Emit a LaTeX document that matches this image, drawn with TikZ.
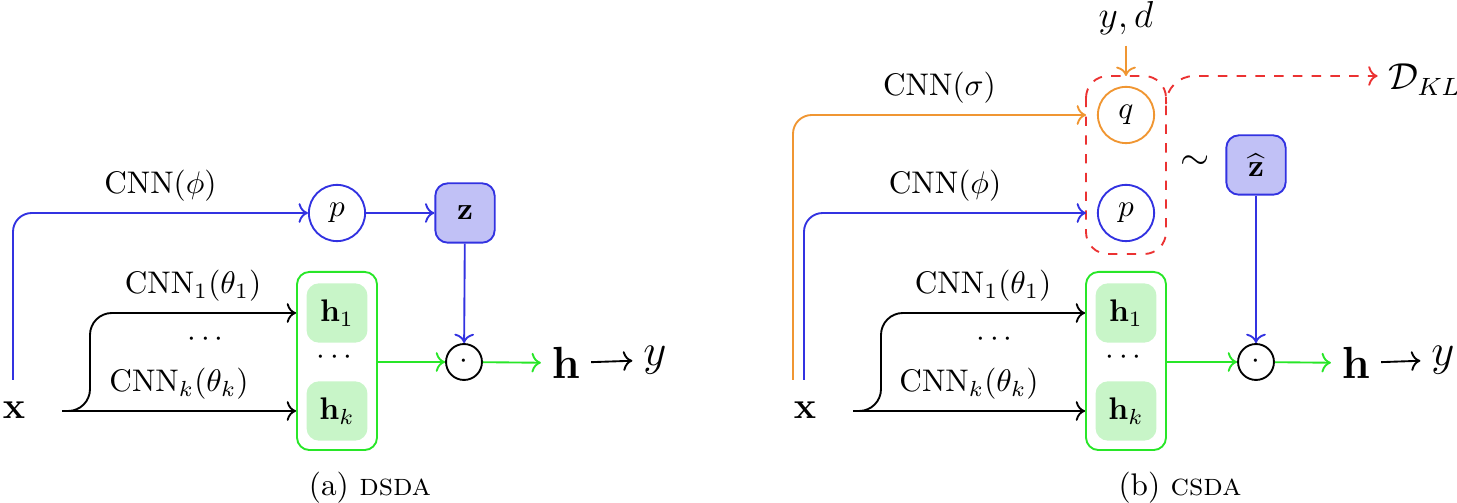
\documentclass[tikz,border=0pt]{standalone}
\usepackage{amsmath}
\usetikzlibrary{arrows.meta}
\definecolor{cb}{RGB}{50,50,225}
\definecolor{cg}{RGB}{40,230,40}
\definecolor{cgl}{RGB}{200,245,200}
\definecolor{co}{RGB}{240,150,50}
\definecolor{cr}{RGB}{235,50,50}
\tikzset{
 arr/.style={-{To[length=3pt]},line width=0.6pt},
 circ/.style={circle,draw,minimum size=18pt,inner sep=0pt,line width=0.6pt},
 zbox/.style={rectangle,rounded corners=4pt,draw=cb,fill=cb!30,line width=0.6pt,minimum width=19pt,minimum height=19pt},
 outer/.style={rectangle,rounded corners=4pt,draw=cg,line width=0.6pt,minimum width=25.6pt,minimum height=57pt},
 inner/.style={rectangle,rounded corners=4pt,fill=cgl,minimum width=19.5pt,minimum height=19pt},
}
\begin{document}
\begin{tikzpicture}[x=0.32pt,y=-0.32pt]
\useasboundingbox (0,0) rectangle (1457,503);
% ---------- panel a ----------
\node (xa) at (14,410) {\large$\mathbf{x}$};
\coordinate (xa1) at (13,380);
\coordinate (xa2) at (62,411);
\node[circ,draw=cb] (pa) at (337,213) {$p$};
\node[zbox] (za) at (465,213) {$\mathbf{z}$};
\node[outer] (ga) at (337,361) {};
\node[inner] (h1a) at (337,313) {$\mathbf{h}_1$};
\node[inner] (hka) at (337,411) {$\mathbf{h}_k$};
\node at (337,358) {$\cdots$};
\node[circ,draw=black,minimum size=11.5pt] (oa) at (464,362) {$\cdot$};
\node (ha) at (566,363) {\Large$\mathbf{h}$};
\node (ya) at (655,360) {\Large$y$};
\draw[arr,cb,rounded corners=6pt] (xa1) |- node[pos=0.75,above,black]{CNN$(\phi)$} (pa.west);
\draw[arr,cb] (pa) -- (za);
\draw[arr,cb] (za) -- (oa);
\draw[arr] (xa2) -- node[above]{CNN$_k(\theta_k)$} (ga.west|-hka);
\draw[arr,rounded corners=7pt] (75,411) -| (90,360) |- node[pos=0.75,above]{CNN$_1(\theta_1)$} (ga.west|-h1a);
\node at (208,340) {$\cdots$};
\draw[arr,cg] (ga.east|-oa) -- (oa);
\draw[arr,cg] (oa) -- (ha);
\draw[arr] (ha) -- (ya);
\node at (370,488) {(a) \textsc{dsda}};
% ---------- panel b ----------
\node (xb) at (805,410) {\large$\mathbf{x}$};
\coordinate (xo) at (793,380);
\coordinate (xbl) at (804,380);
\coordinate (xb2) at (853,411);
\node[circ,draw=co] (q) at (1126,115) {$q$};
\node[circ,draw=cb] (pb) at (1126,213) {$p$};
\node (yd) at (1126,18) {\large$y,d$};
\draw[cr,dashed,line width=0.6pt,rounded corners=7pt] (1086,76) rectangle (1166,254);
\coordinate (rt) at (1126,76);
\draw[arr,co] (yd) -- (rt);
\node (dkl) at (1425,80) {\large$\mathcal{D}_{KL}$};
\draw[arr,cr,dashed,line width=0.6pt,rounded corners=9pt] (1166,97) |- (dkl.west|-0,76);
\node at (1195,163) {\large$\sim$};
\node[zbox] (zb) at (1256,165) {$\widehat{\mathbf{z}}$};
\node[outer] (gb) at (1126,361) {};
\node[inner] (h1b) at (1126,313) {$\mathbf{h}_1$};
\node[inner] (hkb) at (1126,411) {$\mathbf{h}_k$};
\node at (1126,358) {$\cdots$};
\node[circ,draw=black,minimum size=11.5pt] (ob) at (1256,362) {$\cdot$};
\node (hb) at (1356,363) {\Large$\mathbf{h}$};
\node (yb) at (1443,360) {\Large$y$};
\draw[arr,co,rounded corners=6pt] (xo) |- node[pos=0.75,above,black]{CNN$(\sigma)$} (q.west-|1086,0);
\draw[arr,cb,rounded corners=6pt] (xbl) |- node[pos=0.75,above,black]{CNN$(\phi)$} (pb.west-|1086,0);
\draw[arr,cb] (zb) -- (ob);
\draw[arr] (xb2) -- node[above]{CNN$_k(\theta_k)$} (gb.west|-hkb);
\draw[arr,rounded corners=7pt] (866,411) -| (881,360) |- node[pos=0.75,above]{CNN$_1(\theta_1)$} (gb.west|-h1b);
\node at (997,340) {$\cdots$};
\draw[arr,cg] (gb.east|-ob) -- (ob);
\draw[arr,cg] (ob) -- (hb);
\draw[arr] (hb) -- (yb);
\node at (1180,488) {(b) \textsc{csda}};
\end{tikzpicture}
\end{document}
